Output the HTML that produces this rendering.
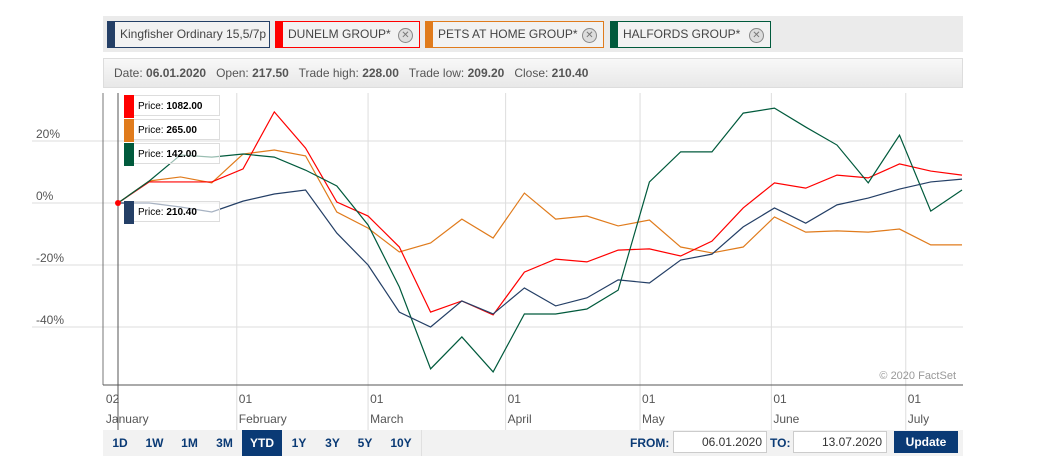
<!DOCTYPE html>
<html><head><meta charset="utf-8"><style>
body{margin:0;width:1047px;height:461px;background:#fff;font-family:"Liberation Sans",sans-serif;position:relative;overflow:hidden}
.abs{position:absolute}
.tag{position:absolute;top:21px;height:25px;border:1px solid;background:#f2f2f2;font-size:12px;color:#444;line-height:25px;box-sizing:border-box;height:27px}
.tag .bar{position:absolute;left:0;top:0;bottom:0;width:7px}
.tag span{position:absolute;left:12px}
.x{position:absolute;right:6px;top:6px;width:13px;height:13px;border-radius:50%;border:1px solid #888;background:#ddd;font-size:10px;line-height:13px;text-align:center;color:#777}
.btn{position:absolute;top:430px;height:26px;line-height:26px;font-size:12px;font-weight:bold;color:#0a3a75;text-align:center;background:#f2f2f2;border-right:1px solid #e0e0e0}
.plab{position:absolute;left:124px;width:96px;height:21px;border:1px solid #ddd;background:rgba(255,255,255,0.6);font-size:10px;line-height:21px;box-sizing:border-box;color:#000}
.plab i{position:absolute;left:-1px;top:-1px;width:10px;height:23px}
.plab span{position:absolute;left:13px}
</style></head><body>
<div class="abs" style="left:103px;top:16px;width:860px;height:36px;background:#ebebeb"></div>
<div class="tag" style="left:107px;width:163px;border-color:#243f66"><div class="bar" style="background:#243f66"></div><span>Kingfisher Ordinary 15,5/7p</span></div>
<div class="tag" style="left:275px;width:145px;border-color:#f00"><div class="bar" style="background:#f00"></div><span>DUNELM GROUP*</span><div class="x">✕</div></div>
<div class="tag" style="left:425px;width:179px;border-color:#e07b1c"><div class="bar" style="background:#e07b1c"></div><span>PETS AT HOME GROUP*</span><div class="x">✕</div></div>
<div class="tag" style="left:610px;width:161px;border-color:#005a3c"><div class="bar" style="background:#005a3c"></div><span>HALFORDS GROUP*</span><div class="x">✕</div></div>
<div class="abs" style="left:103px;top:58px;width:860px;height:30px;background:linear-gradient(#f8f8f8,#e8e8e8);border:1px solid #ddd;box-sizing:border-box;font-size:12px;color:#555;line-height:28px;padding-left:10px">Date: <b>06.01.2020</b>&nbsp;&nbsp; Open: <b>217.50</b>&nbsp;&nbsp; Trade high: <b>228.00</b>&nbsp;&nbsp; Trade low: <b>209.20</b>&nbsp;&nbsp; Close: <b>210.40</b></div>
<svg class="abs" style="left:0;top:0" width="1047" height="461">
<g id="grid"></g><g id="lines"></g>
<line x1="103" y1="93" x2="103" y2="385" stroke="#777" stroke-width="1"/>
<line x1="103" y1="385" x2="963" y2="385" stroke="#555" stroke-width="1"/>
<line x1="118" y1="93" x2="118" y2="430" stroke="#555" stroke-width="1"/>
<circle cx="118" cy="203" r="3" fill="#f00"/>
<text x="956" y="379" font-size="11" fill="#999" text-anchor="end">© 2020 FactSet</text>
</svg>
<div class="plab" style="top:95px"><i style="background:#f00"></i><span>Price: <b>1082.00</b></span></div>
<div class="plab" style="top:119px"><i style="background:#e07b1c"></i><span>Price: <b>265.00</b></span></div>
<div class="plab" style="top:143px"><i style="background:#005a3c"></i><span>Price: <b>142.00</b></span></div>
<div class="plab" style="top:201px"><i style="background:#243f66"></i><span>Price: <b>210.40</b></span></div>
<div class="abs" style="left:103px;top:430px;width:860px;height:26px;background:#f2f2f2"></div>
<div class="btn" style="left:103px;width:34px">1D</div>
<div class="btn" style="left:137px;width:35px">1W</div>
<div class="btn" style="left:172px;width:35px">1M</div>
<div class="btn" style="left:207px;width:35px">3M</div>
<div class="btn" style="left:242px;width:40px;background:#0a3a75;color:#fff">YTD</div>
<div class="btn" style="left:282px;width:34px">1Y</div>
<div class="btn" style="left:316px;width:33px">3Y</div>
<div class="btn" style="left:349px;width:32px">5Y</div>
<div class="btn" style="left:381px;width:40px">10Y</div>
<div class="abs" style="left:630px;top:430px;line-height:26px;font-size:12px;font-weight:bold;color:#0a3a75">FROM:</div>
<div class="abs" style="left:673px;top:431px;width:94px;height:22px;background:#fff;border:1px solid #ccc;box-sizing:border-box;font-size:12px;line-height:20px;text-align:right;padding-right:4px;color:#333">06.01.2020</div>
<div class="abs" style="left:770px;top:430px;line-height:26px;font-size:12px;font-weight:bold;color:#0a3a75">TO:</div>
<div class="abs" style="left:793px;top:431px;width:94px;height:22px;background:#fff;border:1px solid #ccc;box-sizing:border-box;font-size:12px;line-height:20px;text-align:right;padding-right:4px;color:#333">13.07.2020</div>
<div class="abs" style="left:894px;top:431px;width:64px;height:22px;background:#0a3a75;color:#fff;font-size:12px;font-weight:bold;line-height:22px;text-align:center">Update</div>
<script>
const yTicks=[20,0,-20,-40];
const yTickLabels=["20%","0%","-20%","-40%"];
const monthDays=["02","01","01","01","01","01","01"];
const monthNames=["January","February","March","April","May","June","July"];
const monthWeekPos=[-0.45,3.8,8.0,12.4,16.7,20.9,25.2];
const kingfisher=[0,0,-1.3,-2.9,0.6,2.9,4.2,-9.7,-20,-35.2,-40,-31.6,-35.8,-27.4,-33.2,-30.6,-24.8,-25.8,-18.4,-16.5,-7.7,-1.6,-6.5,-0.6,1.6,4.5,6.8,7.7];
const dunelm=[0,6.8,6.8,6.8,11,29.4,17.7,0.3,-4.2,-14.2,-35.2,-31.6,-36.1,-22.3,-18.1,-19,-15.2,-14.8,-17.1,-12.3,-1.6,6.5,4.8,9,8.1,12.6,10.3,9];
const pets=[0,7.1,8.4,6.5,15.8,17.1,15.2,-2.9,-8.1,-15.8,-12.9,-5.2,-11.3,3.2,-5.2,-4.2,-7.4,-5.5,-14.2,-16.1,-14.2,-4.5,-9.4,-9,-9.4,-8.4,-13.5,-13.5];
const halfords=[0,7.1,15.5,14.8,15.8,14.8,10.6,5.5,-7.1,-27.1,-53.5,-43.2,-54.5,-35.8,-35.8,-34.2,-28.1,6.8,16.5,16.5,29,30.6,24.5,18.7,6.5,21.9,-2.6,4.2];
const NS="http://www.w3.org/2000/svg";
const xS=i=>118+i*31.26;
const yS=v=>203-v*3.1;
const grid=document.getElementById('grid'),lines=document.getElementById('lines');
function mk(t,a,p){const e=document.createElementNS(NS,t);for(const k in a)e.setAttribute(k,a[k]);p.appendChild(e);return e;}
yTicks.forEach((v,i)=>{
 const l=mk('line',{x1:32,x2:963,y1:yS(v),y2:yS(v),stroke:'#ddd'},grid);
 
 
 const t=mk('text',{x:36,y:yS(v)-3,'font-size':12,fill:'#555'},grid);t.textContent=yTickLabels[i];
 
 
});
monthWeekPos.forEach((w,i)=>{
 const x=xS(w);
 if(i>0){const l=mk('line',{x1:x,x2:x,y1:93,y2:430,stroke:'#ddd'},grid);
 
 }
 const d=mk('text',{x:x+2,y:403,'font-size':12,fill:'#555'},grid);d.textContent=monthDays[i];
 
 
 const m=mk('text',{x:x+2,y:423,'font-size':12,fill:'#555'},grid);m.textContent=monthNames[i];
 
 
});
[[pets,'#e07b1c','line-pets'],[dunelm,'#f00','line-dunelm'],[halfords,'#005a3c','line-halfords'],[kingfisher,'#243f66','line-kingfisher']].forEach(([s,c,n])=>{
 const p=mk('polyline',{points:s.map((v,i)=>xS(i)+','+yS(v)).join(' '),fill:'none',stroke:c,'stroke-width':1.2},lines);
 
 
});
</script>
</body></html>
